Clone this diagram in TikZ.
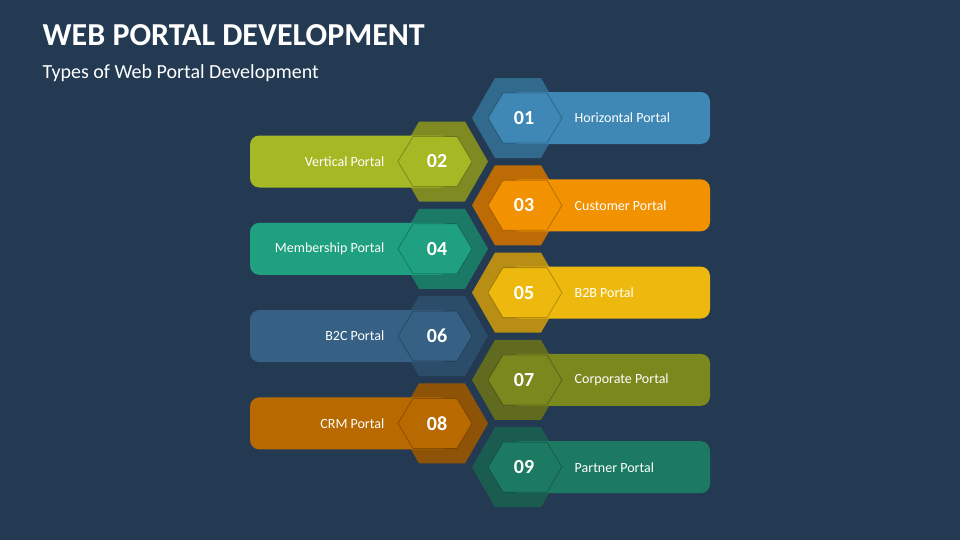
\documentclass[tikz,border=0pt]{standalone}
\usepackage{fontspec}
\setmainfont{Carlito}
\definecolor{bgnavy}{HTML}{243A53}
\definecolor{cA}{HTML}{3F88B5}\definecolor{dA}{HTML}{326A8E}
\definecolor{cB}{HTML}{A7B825}\definecolor{dB}{HTML}{7F8A22}
\definecolor{cC}{HTML}{F39200}\definecolor{dC}{HTML}{BD6C05}
\definecolor{cD}{HTML}{1FA080}\definecolor{dD}{HTML}{1B7A65}
\definecolor{cE}{HTML}{EDB90E}\definecolor{dE}{HTML}{B88F14}
\definecolor{cF}{HTML}{366184}\definecolor{dF}{HTML}{2B4D69}
\definecolor{cG}{HTML}{7B881E}\definecolor{dG}{HTML}{606B20}
\definecolor{cH}{HTML}{B86A00}\definecolor{dH}{HTML}{8E5307}
\definecolor{cI}{HTML}{1C7A63}\definecolor{dI}{HTML}{1A5D50}
\tikzset{
  numtext/.style={text=white, font=\fontsize{15}{18}\selectfont\bfseries},
  labeltext/.style={text=white, font=\fontsize{10.5}{13}\selectfont},
  hexline/.style={draw=black, draw opacity=0.25, line width=0.6pt}
}
\begin{document}
\begin{tikzpicture}[x=0.75pt, y=-0.75pt]
  % background
  \fill[bgnavy] (0,0) rectangle (960,540);
  \useasboundingbox (0,0) rectangle (960,540);

  % titles
  \node[anchor=west, text=white, font=\fontsize{24}{28}\selectfont\bfseries] (title) at (38,35) {WEB PORTAL DEVELOPMENT};
  \node[anchor=west, text=white, font=\fontsize{15}{18}\selectfont] (subtitle) at (38,73) {Types of Web Portal Development};

  % right column
  \foreach \k/\n/\c/\txt in {0/01/A/Horizontal Portal, 1/03/C/Customer Portal,
      2/05/E/B2B Portal, 3/07/G/Corporate Portal, 4/09/I/Partner Portal} {
    \pgfmathsetmacro{\y}{118+87.3*\k}
    \fill[d\c] (472,\y) -- (495,\y-40) -- (541,\y-40) -- (564,\y) -- (541,\y+40) -- (495,\y+40) -- cycle;
    \fill[c\c, rounded corners=7] (510,\y-26) rectangle (710,\y+26);
    \filldraw[fill=c\c, hexline] (488,\y) -- (503,\y-25) -- (547,\y-25) -- (562,\y) -- (547,\y+25) -- (503,\y+25) -- cycle;
    \node[numtext] (num\n) at (524,\y) {\n};
    \node[labeltext, anchor=west] (lab\n) at (570,\y) {\txt};
  }

  % left column
  \foreach \k/\n/\c/\txt in {0/02/B/Vertical Portal, 1/04/D/Membership Portal,
      2/06/F/B2C Portal, 3/08/H/CRM Portal} {
    \pgfmathsetmacro{\y}{161.5+87.3*\k}
    \fill[d\c] (396,\y) -- (419,\y-40) -- (465,\y-40) -- (488,\y) -- (465,\y+40) -- (419,\y+40) -- cycle;
    \fill[c\c, rounded corners=7] (250,\y-26) rectangle (450,\y+26);
    \filldraw[fill=c\c, hexline] (398,\y) -- (413,\y-25) -- (457,\y-25) -- (472,\y) -- (457,\y+25) -- (413,\y+25) -- cycle;
    \node[numtext] (num\n) at (437,\y) {\n};
    \node[labeltext, anchor=east] (lab\n) at (389,\y) {\txt};
  }
\end{tikzpicture}
\end{document}
